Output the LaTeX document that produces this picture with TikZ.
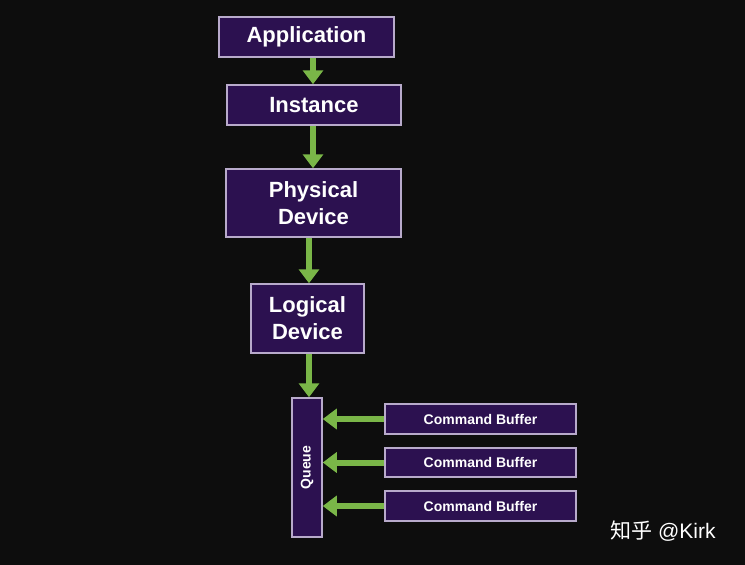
\documentclass[tikz,border=0pt]{standalone}
\usepackage{fontspec}
\setmainfont{Liberation Sans}
\newfontfamily\cjkf{Noto Sans CJK SC}
\usetikzlibrary{arrows.meta}
\definecolor{boxfill}{HTML}{2C1150}
\definecolor{boxline}{HTML}{B8AACB}
\definecolor{arr}{HTML}{7AB648}
\begin{document}
\begin{tikzpicture}[x=1pt,y=-1pt,
  box/.style={draw=boxline,line width=1.5pt,fill=boxfill,text=white,font=\bfseries,align=center,inner sep=0pt},
  big/.style={box,font=\fontsize{22}{27}\selectfont\bfseries},
  small/.style={box,font=\fontsize{14}{16}\selectfont\bfseries},
  ar/.style={draw=arr,line width=6pt,-{Triangle[length=14pt,width=20pt]}}]
\fill[black!95] (0,0) rectangle (745,565);
\node[big,minimum width=175pt,minimum height=40pt] (app) at (306.5,37) {Application};
\node[big,minimum width=174pt,minimum height=40pt] (ins) at (314,105) {Instance};
\node[big,minimum width=175pt,minimum height=68pt] (phy) at (313.5,203) {Physical\\Device};
\node[big,minimum width=113pt,minimum height=69pt] (log) at (307.5,318.5) {Logical\\Device};
\node[small,minimum width=30pt,minimum height=139pt] (q) at (307,467.5) {\rotatebox{90}{Queue}};
\node[small,minimum width=191pt,minimum height=30pt] (c1) at (480.5,419) {Command Buffer};
\node[small,minimum width=191pt,minimum height=29pt] (c2) at (480.5,462.5) {Command Buffer};
\node[small,minimum width=191pt,minimum height=30pt] (c3) at (480.5,506) {Command Buffer};
\draw[ar] (app.south -| 313,0) -- (ins.north -| 313,0);
\draw[ar] (ins.south -| 313,0) -- (phy.north -| 313,0);
\draw[ar] (phy.south -| 309,0) -- (log.north -| 309,0);
\draw[ar] (log.south -| 309,0) -- (q.north -| 309,0);
\draw[ar] (c1.west) -- (c1.west -| q.east);
\draw[ar] (c2.west) -- (c2.west -| q.east);
\draw[ar] (c3.west) -- (c3.west -| q.east);
\node[text=white,font=\fontsize{21}{25}\selectfont,anchor=west,inner sep=0pt] (wm) at (610,531) {{\cjkf 知乎} @Kirk};
\end{tikzpicture}
\end{document}
